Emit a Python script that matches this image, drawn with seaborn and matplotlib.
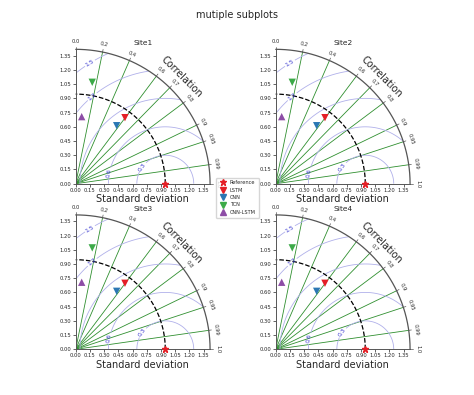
import numpy as np
import pandas as pd
import matplotlib
matplotlib.use('Agg')
import matplotlib.pyplot as plt
from matplotlib.lines import Line2D
import seaborn as sns

# --- data ---
sites = ['Site1', 'Site2', 'Site3', 'Site4']
models = ['LSTM', 'CNN', 'TCN', 'CNN-LSTM']
ref_std = 0.945
model_std = [0.869, 0.749, 1.084, 0.710]
model_corr = [0.598, 0.577, 0.161, 0.089]
corr_ticks = [0.0, 0.2, 0.4, 0.6, 0.7, 0.8, 0.9, 0.95, 0.99, 1.0]
corr_labels = ['0.0', '0.2', '0.4', '0.6', '0.7', '0.8', '0.9', '0.95', '0.99', '1.0']
std_ticks = [0.0, 0.15, 0.30, 0.45, 0.60, 0.75, 0.90, 1.05, 1.20, 1.35]
rms_labelled = [0.3, 0.6, 1.2, 1.5]
rms_unlabelled = [0.9]

colors = {'LSTM': '#e41f26', 'CNN': '#2b77b3', 'TCN': '#3caa48', 'CNN-LSTM': '#8d4da6'}
markers = {'LSTM': 'v', 'CNN': 'v', 'TCN': 'v', 'CNN-LSTM': '^'}

sns.set_style('ticks')
plt.rcParams['font.family'] = ['DejaVu Sans']

fig = plt.figure(figsize=(4.74, 3.95), dpi=100)
fig.suptitle('mutiple subplots', fontsize=7, y=0.975)

rmax = 1.5 * ref_std
W, H = 474.0, 395.0
size_px = rmax * 94.8
origins = [(75.7, 183.7), (275.7, 183.7), (75.7, 349.3), (275.7, 349.3)]

df = pd.DataFrame({'model': models, 'std': model_std, 'corr': model_corr})
df['x'] = df['std'] * df['corr']
df['y'] = df['std'] * np.sin(np.arccos(df['corr']))

for site, (ox, oy) in zip(sites, origins):
    ax = fig.add_axes([ox / W, 1 - oy / H, size_px / W, size_px / H])
    ax.set_xlim(0, rmax)
    ax.set_ylim(0, rmax)

    # RMS contours centred on the reference
    g = np.linspace(0, rmax, 500)
    X, Y = np.meshgrid(g, g)
    Z = np.ma.masked_where(np.hypot(X, Y) > rmax, np.hypot(X - ref_std, Y))
    ax.contour(X, Y, Z, levels=rms_unlabelled, colors='#b0b0ea', linewidths=0.6)
    cs = ax.contour(X, Y, Z, levels=rms_labelled, colors='#b0b0ea', linewidths=0.6)
    pos = []
    for lev, ang in zip(rms_labelled, [144, 169, 130, 122]):
        a = np.deg2rad(ang)
        pos.append((ref_std + lev * np.cos(a), lev * np.sin(a)))
    ax.clabel(cs, manual=pos, fontsize=4.3, colors='#3b3bd0',
              fmt='%.1f', inline=True, inline_spacing=1)

    # correlation rays
    for c in corr_ticks[1:-1]:
        th = np.arccos(c)
        ax.plot([0, rmax * np.cos(th)], [0, rmax * np.sin(th)], color='#2f8f2f', lw=0.6, zorder=1)

    # outer arc and reference arc
    t = np.linspace(0, np.pi / 2, 200)
    ax.plot(rmax * np.cos(t), rmax * np.sin(t), color='#555555', lw=0.9, clip_on=False)
    ax.plot(ref_std * np.cos(t), ref_std * np.sin(t), color='black', lw=0.9, ls='--', clip_on=False)

    # correlation ticks and labels
    for c, lab in zip(corr_ticks, corr_labels):
        th = np.arccos(c)
        ax.plot([rmax * np.cos(th), 1.02 * rmax * np.cos(th)],
                [rmax * np.sin(th), 1.02 * rmax * np.sin(th)],
                color='#555555', lw=0.5, clip_on=False)
        ax.text(1.055 * rmax * np.cos(th), 1.055 * rmax * np.sin(th), lab, fontsize=3.7,
                rotation=np.rad2deg(th) - 90, ha='center', va='center', rotation_mode='anchor')
    ax.text(1.12 * rmax * np.cos(np.pi / 4), 1.12 * rmax * np.sin(np.pi / 4), 'Correlation',
            fontsize=7, rotation=-45, ha='center', va='center', rotation_mode='anchor')

    # models and reference
    sns.scatterplot(data=df, x='x', y='y', hue='model', style='model', palette=colors,
                    markers=markers, s=28, linewidth=0, legend=False, ax=ax, zorder=5)
    ax.plot([ref_std], [0], marker='*', color='#e41f26', ms=5, ls='none', clip_on=False, zorder=6)

    ax.set_xticks(std_ticks)
    ax.set_yticks(std_ticks)
    ax.set_xticklabels([f'{v:.2f}' for v in std_ticks])
    ax.set_yticklabels([f'{v:.2f}' for v in std_ticks])
    ax.tick_params(labelsize=3.8, length=2, width=0.5, pad=1)
    ax.set_xlabel('Standard deviation', fontsize=7, labelpad=1)
    ax.set_ylabel('')
    ax.set_title(site, fontsize=5.4, pad=3)
    for s in ['top', 'right']:
        ax.spines[s].set_visible(False)
    for s in ['left', 'bottom']:
        ax.spines[s].set_linewidth(0.7)
        ax.spines[s].set_color('#555555')

handles = [Line2D([], [], marker='*', color='#e41f26', ls='none', ms=5, label='Reference')]
for m in models:
    handles.append(Line2D([], [], marker=markers[m], color=colors[m], ls='none', ms=5, label=m))
fig.legend(handles=handles, loc='center', fontsize=3.6, frameon=True, borderpad=0.5,
           handletextpad=0.4, labelspacing=0.5)

fig.savefig('out.png', dpi=100)
